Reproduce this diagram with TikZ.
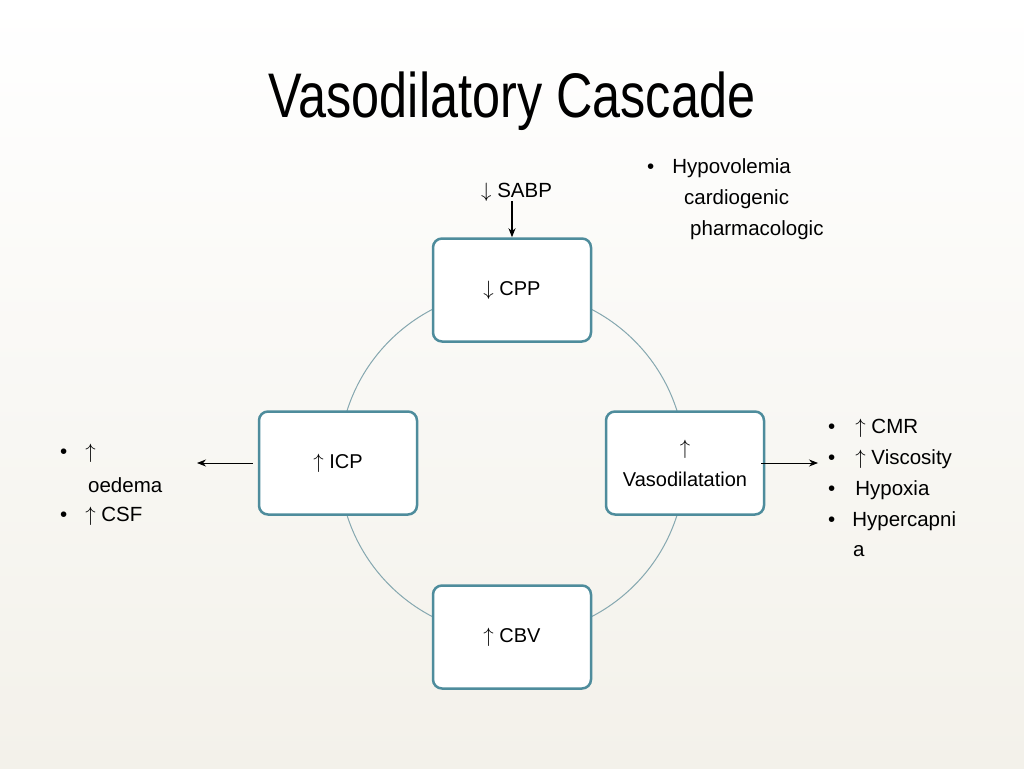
\documentclass[tikz,border=0pt]{standalone}
\usepackage{fontspec}
\setmainfont{Liberation Sans}
\usetikzlibrary{positioning,arrows.meta}
\definecolor{boxline}{HTML}{4E8C9C}
\definecolor{ringline}{HTML}{86A8B0}
\definecolor{bgtop}{HTML}{FFFFFF}
\definecolor{bgbot}{HTML}{F3F1EA}
\tikzset
{
    stage/.style = {rectangle, rounded corners=9pt, draw=boxline, line width=2.5pt, fill=white, minimum width=158pt, minimum height=103pt, align=center, font=\fontsize{20}{32}\selectfont},
    txt/.style   = {anchor=west, inner sep=0pt, font=\fontsize{20.5}{24}\selectfont},
    link/.style  = {-{Stealth[length=9pt,width=7pt]}, line width=0.8pt}
}
\begin{document}
\begin{tikzpicture}[x=1pt,y=-1pt]
    \shade[top color=bgtop, bottom color=bgbot] (0,0) rectangle (1024,768);
    \useasboundingbox (0,0) rectangle (1024,768);
    \node (title) [font=\fontsize{63}{70}\selectfont, xscale=0.8] at (512,101) {Vasodilatory Cascade};
    % ring behind the stages
    \draw[ringline, line width=1pt] (512,463) circle (173);
    \node (cpp) [stage] at (512,290) {$\downarrow$ CPP};
    \node (icp) [stage] at (338,463) {\raisebox{4pt}{$\uparrow$ ICP}};
    \node (vaso) [stage] at (685,463) {$\uparrow$\\Vasodilatation};
    \node (cbv) [stage] at (512,637) {\raisebox{-8pt}{$\uparrow$ CBV}};
    % inputs and outputs
    \node (sabp) [txt] at (481,192) {$\downarrow$ SABP};
    \draw[link, line width=1.8pt] (sabp.south -| cpp.north) -- (cpp.north);
    \coordinate (lend) at (197,463);
    \coordinate (rend) at (818,463);
    \draw[link] ([xshift=-5pt]icp.west) -- (lend);
    \draw[link] ([xshift=-4pt]vaso.east) -- (rend);
    % causes
    \node (h1) [txt] at (647,168) {•\hspace{18pt}Hypovolemia};
    \node (h2) [txt] at (684,199) {cardiogenic};
    \node (h3) [txt] at (690,230) {pharmacologic};
    % left list
    \node (l1) [txt] at (60,453) {•\hspace{18pt}$\uparrow$};
    \node (l2) [txt] at (88,485) {oedema};
    \node (l3) [txt] at (60,516) {•\hspace{18pt}$\uparrow$ CSF};
    % right list
    \node (r1) [txt] at (828,428) {•\hspace{20pt}$\uparrow$ CMR};
    \node (r2) [txt] at (828,459) {•\hspace{20pt}$\uparrow$ Viscosity};
    \node (r3) [txt] at (828,490) {•\hspace{20pt}Hypoxia};
    \node (r4) [txt] at (828,521) {•\hspace{17pt}Hypercapni};
    \node (r5) [txt] at (853,551) {a};
\end{tikzpicture}
\end{document}
